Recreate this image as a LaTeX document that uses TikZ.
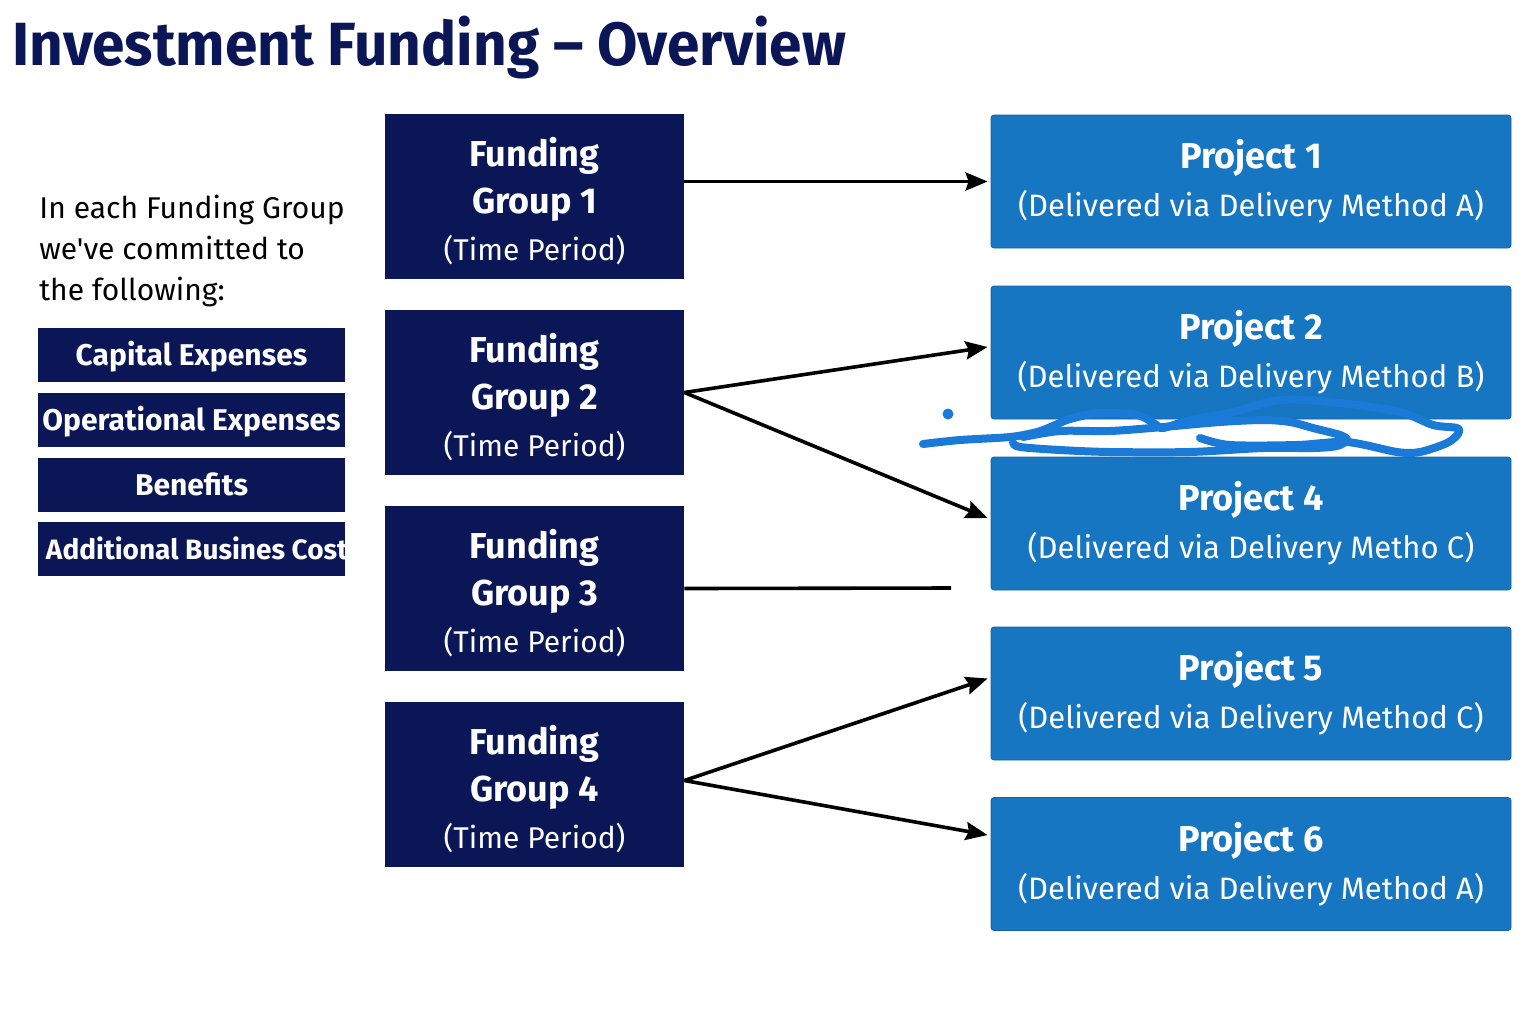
\documentclass[tikz,border=0pt]{standalone}
\usepackage{fontspec}
\setmainfont{Fira Sans}
\newfontfamily\introfont{Fira Sans}
\usetikzlibrary{arrows.meta,positioning,calc}
\definecolor{navy}{HTML}{0B1656}
\definecolor{projblue}{HTML}{1776C2}
\definecolor{penblue}{HTML}{1A7AD8}

\tikzset{
  groupbox/.style={fill=navy, minimum width=149.5pt, minimum height=82.5pt, inner sep=0pt},
  grouptext/.style={text=white, align=center, inner sep=0pt,
    font=\bfseries\fontsize{18}{23.5}\selectfont},
  projbox/.style={fill=projblue, draw=projblue!85!black, rounded corners=1.5pt, text=white,
    minimum width=260pt, minimum height=66.5pt, align=center, inner sep=0pt,
    font=\fontsize{15.5}{24}\selectfont},
  costbox/.style={fill=navy, text=white, minimum width=153.5pt, minimum height=27pt,
    inner sep=0pt, text height=10.5pt, text depth=0pt,
    font=\bfseries\fontsize{15}{17}\selectfont},
  link/.style={line width=1.8pt, -{Stealth[length=11pt,width=9pt,inset=1.5pt]}},
  scribble/.style={draw=penblue, line width=4pt, line cap=round, line join=round},
}

\begin{document}
\begin{tikzpicture}[x=0.5pt, y=-0.5pt]
    \useasboundingbox (0,0) rectangle (1536,1024);

    % Title
    \node[anchor=base west, inner sep=0pt, text=navy, font=\bfseries\fontsize{30.5}{36}\selectfont]
        (title) at (12,65) {\scalebox{0.96}[1]{Investment Funding – Overview}};

    % Left column
    \node[anchor=north west, inner sep=0pt, align=left, font=\introfont\fontsize{15}{20.5}\selectfont]
        (intro) at (39,195) {In each Funding Group\\we've committed to\\the following:};
    \node[costbox] (capex) at (191.5,355) {Capital Expenses};
    \node[costbox] (opex) at (191.5,420) {Operational Expenses};
    \node[costbox] (benefits) at (191.5,484.5) {Benefits};
    \node[costbox] (addcost) at (191.5,549) {};
    \begin{scope}
        \clip (addcost.south west) rectangle (addcost.north east);
        \node[costbox, anchor=west, fill=none, minimum width=0pt,
              font=\bfseries\fontsize{14}{17}\selectfont]
            (addtext) at ([xshift=4pt]addcost.west) {Additional Busines Costs};
    \end{scope}

    % Funding groups
    \foreach \i/\y in {1/196.5, 2/392.5, 3/588.5, 4/784.5} {
        \node[groupbox] (g\i) at (534.5,\y) {};
        \node[grouptext] (gt\i) at ([yshift=-2.25pt]g\i.center)
            {Funding\\Group \i\\{\mdseries\fontsize{15}{23.5}\selectfont(Time Period)}};
    }

    % Projects
    \foreach \n/\y/\m in {1/181.5/Delivery Method A, 2/352.5/Delivery Method B,
                          4/523.5/Delivery Metho C, 5/693.5/Delivery Method C,
                          6/864/Delivery Method A} {
        \node[projbox] (p\n) at (1251,\y)
            {{\bfseries\fontsize{18}{24}\selectfont Project \n}\\(Delivered via \m)};
    }

    % Links
    \coordinate (g3end) at (951,588);
    \draw[link] (g1.east |- p1.west) -- ([xshift=-1.5pt]p1.west);
    \draw[link] (g2.east) -- ([xshift=-1.5pt, yshift=2.75pt]p2.west);
    \draw[link] (g2.east) -- ([xshift=-1.5pt, yshift=2.75pt]p4.west);
    \draw[line width=1.8pt] (g3.east) -- (g3end);
    \draw[link] ([yshift=2pt]g4.east) -- ([xshift=-1.5pt, yshift=7.5pt]p5.west);
    \draw[link] ([yshift=2pt]g4.east) -- ([xshift=-1.5pt, yshift=14.5pt]p6.west);

    % Pen scribble
    \fill[penblue] (948,414) circle (5.5);
    \draw[scribble] plot[smooth, tension=0.5] coordinates {
        (923,444) (960,440) (1010,437) (1037,432) (1053,426) (1070,419) (1100,413)
        (1137,415) (1155,424) (1163,428) (1190,420) (1230,413) (1280,400) (1340,403)
        (1400,412) (1433,425) (1457,428) (1458,434) (1447,443) (1420,452) (1397,452)
        (1347,442) (1297,445) (1230,445) (1200,438)};
    \draw[scribble] plot[smooth, tension=0.5] coordinates {
        (1023,437) (1060,431) (1110,431) (1163,427) (1220,422) (1263,420) (1290,422)
        (1313,428) (1340,435) (1347,440) (1337,446) (1313,448) (1263,448) (1190,452)
        (1110,452) (1060,450) (1020,447) (1013,443)};
\end{tikzpicture}
\end{document}
